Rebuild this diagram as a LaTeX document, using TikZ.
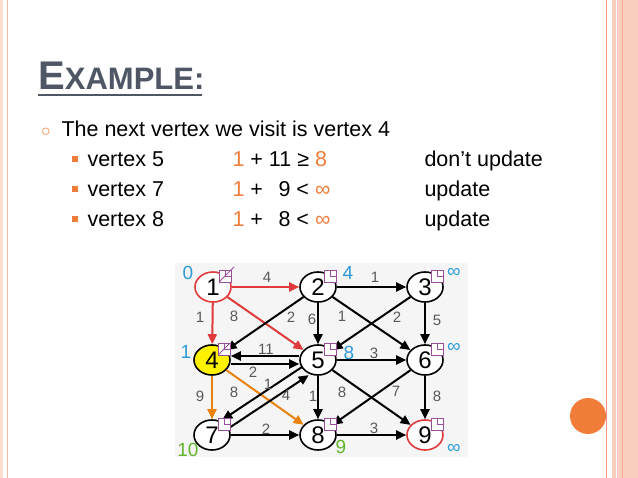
\documentclass[tikz,border=0pt]{standalone}
\usepackage{fontspec}
\setmainfont{Liberation Sans}
\usetikzlibrary{arrows.meta,shapes.geometric}
\definecolor{peach}{HTML}{F6B9A2}
\definecolor{ttl}{HTML}{4F5766}
\definecolor{orng}{HTML}{F07D3A}
\definecolor{gred}{HTML}{E03A3A}
\definecolor{gorg}{HTML}{E8820C}
\definecolor{dblue}{HTML}{2E9BD6}
\definecolor{dgreen}{HTML}{62B32E}
\definecolor{purp}{HTML}{9B4F9B}
\begin{document}
\begin{tikzpicture}[x=1pt,y=-1pt,
  vert/.style={draw=black,line width=1.6pt,ellipse,minimum width=36pt,minimum height=30pt,inner sep=0pt,font=\fontsize{24}{24}\selectfont,fill=white},
  ed/.style={-{Triangle[length=10pt,width=9pt]},line width=2pt},
  wl/.style={font=\fontsize{15}{15}\selectfont,text=black!65},
  dl/.style={font=\fontsize{19}{19}\selectfont},
  body/.style={anchor=base west,font=\fontsize{21.5}{21.5}\selectfont},
  sb/.style={fill=orng,minimum size=6pt,inner sep=0pt}]
\useasboundingbox (0,0) rectangle (638,478);
\fill[white] (0,0) rectangle (638,478);
\fill[peach!50] (0,0) rectangle (3,478);
\draw[peach,line width=1pt] (7,0) -- (7,478);
\fill[peach!70] (612,0) rectangle (638,478);
\draw[peach!80!red,line width=0.8pt] (606,0) -- (606,478);
\draw[white,line width=1pt] (616,0) -- (616,478);
\draw[peach!90!red,line width=1pt] (622,0) -- (622,478);
\fill[orng] (588,416) circle (18);
% title
\node[anchor=base west,text=ttl,font=\bfseries,inner sep=0pt] (title) at (38,90)
  {\fontsize{40}{40}\selectfont E\fontsize{31}{31}\selectfont XAMPLE:};
\draw[ttl,line width=2pt] (38,95) -- (202,95);
% text
\node[text=orng,font=\fontsize{16}{16}\selectfont,anchor=base] (b0) at (46,137) {○};
\node[body] (l0) at (58,137) {The next vertex we visit is vertex 4};
\foreach \y/\v/\a/\b/\r [count=\i] in {167/5/{+ 11 ≥ }/8/don’t update,197/7/{+ \ \,9 < }/∞/update,227/8/{+ \ \,8 < }/∞/update}{
  \node[sb] (s\i) at (75,\y-8) {};
  \node[body] (v\i) at (84,\y) {vertex \v};
  \node[body] (e\i) at (229,\y) {\textcolor{orng}{1} \a\textcolor{orng}{\b}};
  \node[body] (r\i) at (421,\y) {\r};
}
% graph frame
\fill[black!4] (175,263) rectangle (468,457);
\node[vert,draw=gred] (n1) at (213,287) {1};
\node[vert] (n2) at (318,287) {2};
\node[vert] (n3) at (425,287) {3};
\node[vert,fill=yellow] (n4) at (212,360) {4};
\node[vert] (n5) at (318,360) {5};
\node[vert] (n6) at (425,360) {6};
\node[vert] (n7) at (212,435) {7};
\node[vert] (n8) at (318,435) {8};
\node[vert,draw=gred] (n9) at (425,435) {9};
\draw[ed,gred] (n1) -- (n2);
\draw[ed,gred] (n1) -- (n4);
\draw[ed,gred] (n1) -- (n5);
\draw[ed] (n2) -- (n3);
\draw[ed] (n2) -- (n4);
\draw[ed] (n2) -- (n5);
\draw[ed] (n2) -- (n6);
\draw[ed] (n3) -- (n5);
\draw[ed] (n3) -- (n6);
\draw[ed] ([yshift=-4pt]n4.east) -- ([yshift=-4pt]n5.west);
\draw[ed] ([yshift=4pt]n5.west) -- ([yshift=4pt]n4.east);
\draw[ed] (n5) -- (n6);
\draw[ed,gorg] (n4) -- (n7);
\draw[ed,gorg] (n4) -- (n8);
\draw[ed] ([xshift=-3pt,yshift=4pt]n5.south west) -- ([xshift=-3pt,yshift=4pt]n7.north east);
\draw[ed] ([xshift=4pt,yshift=-4pt]n7.north east) -- ([xshift=4pt,yshift=-4pt]n5.south west);
\draw[ed] (n5) -- (n8);
\draw[ed] (n5) -- (n9);
\draw[ed] (n6) -- (n8);
\draw[ed] (n6) -- (n9);
\draw[ed] (n7) -- (n8);
\draw[ed] (n8) -- (n9);
% markers
\foreach \n in {1,...,9}{
  \draw[purp,fill=white,line width=0.8pt] ([xshift=6pt,yshift=17pt]n\n.center) rectangle +(12,12);
  \draw[purp,line width=0.8pt] ([xshift=12pt,yshift=17pt]n\n.center) rectangle +(6,6);
}
\draw[purp,line width=1pt] ([xshift=6pt,yshift=5pt]n1.center) -- ++(15,-15);
\draw[purp,line width=1pt] ([xshift=6pt,yshift=5pt]n4.center) -- ++(11,-11);
% weights
\foreach \p/\t in {{(267,277)}/4,{(375,277)}/1,{(200,317)}/1,{(234,316)}/8,{(291,317)}/2,{(312,319)}/6,{(342,316)}/1,{(397,317)}/2,{(437,320)}/5,{(266,349)}/11,{(253,372)}/2,{(374,353)}/3,{(200,396)}/9,{(234,392)}/8,{(268,384)}/1,{(286,395)}/4,{(313,396)}/1,{(342,392)}/8,{(396,391)}/7,{(437,396)}/8,{(266,429)}/2,{(374,428)}/3}
  \node[wl] at \p {\t};
% distances
\node[dl,text=dblue] (d1) at (188,273) {0};
\node[dl,text=dblue] (d2) at (348,273) {4};
\node[dl,text=dblue] (d3) at (454,273) {∞};
\node[dl,text=dblue] (d4) at (186,352) {1};
\node[dl,text=dblue] (d5) at (349,353) {8};
\node[dl,text=dblue] (d6) at (454,348) {∞};
\node[dl,text=dgreen] (d7) at (188,450) {10};
\node[dl,text=dgreen] (d8) at (341,447) {9};
\node[dl,text=dblue] (d9) at (454,449) {∞};
\end{tikzpicture}
\end{document}
